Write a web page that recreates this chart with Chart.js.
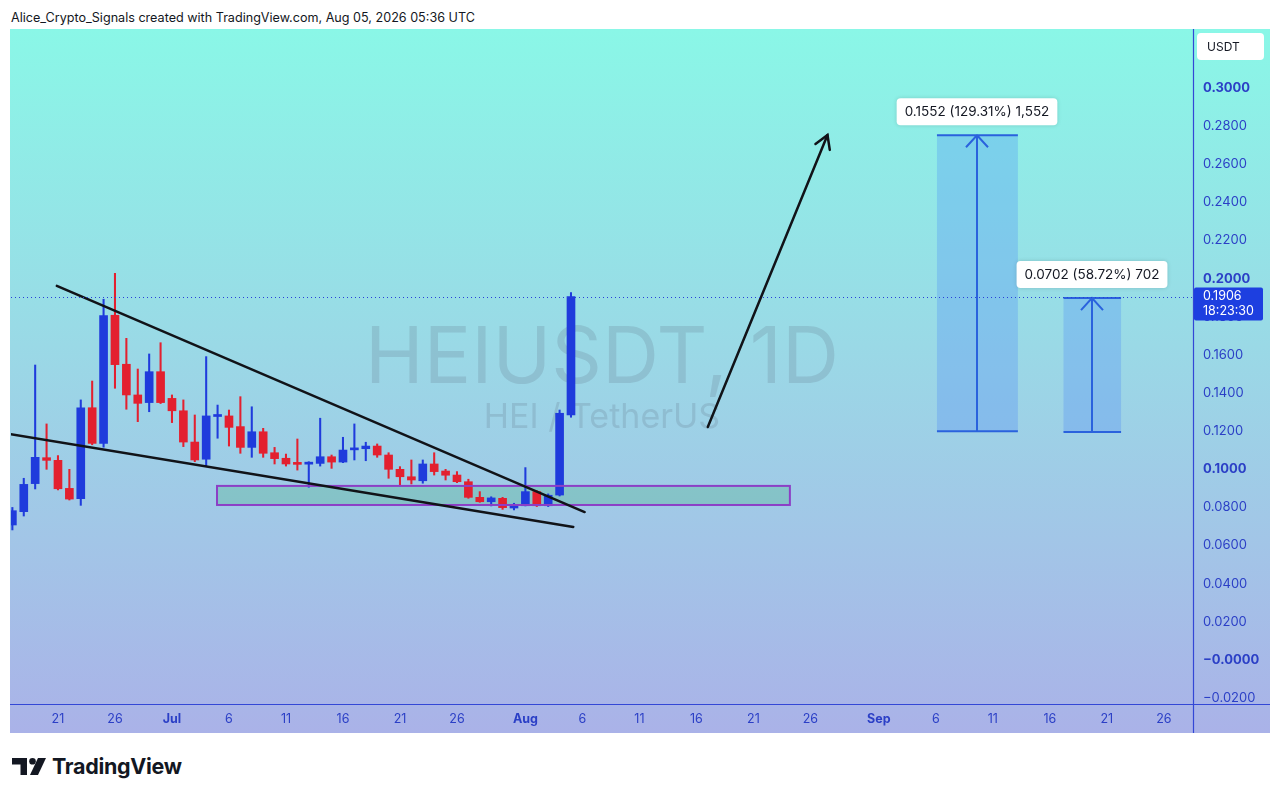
<!DOCTYPE html>
<html>
<head>
<meta charset="utf-8">
<script src="https://cdn.jsdelivr.net/npm/chart.js@4.4.1/dist/chart.umd.min.js"></script>
<style>
    body { margin: 0; background: #fff; width: 1280px; height: 797px; overflow: hidden; font-family: Inter, "Noto Sans", sans-serif; }
    #header { position: absolute; left: 11px; top: 10px; font-size: 12.6px; color: #131722; }
    #panel { position: absolute; left: 10px; top: 29px; width: 1260px; height: 704px; background: linear-gradient(180deg, #8af7e7 0%, #9ad9e6 45%, #aab2e8 100%); }
    #logo { position: absolute; left: 12px; top: 753px; display: flex; align-items: center; gap: 6px; font-size: 21.5px; font-weight: 700; color: #131722; letter-spacing: -0.3px; }
</style>
</head>
<body>
<div id="header">Alice_Crypto_Signals created with TradingView.com, Aug 05, 2026 05:36 UTC</div>
<div id="panel"><canvas id="chart" width="1260" height="704"></canvas></div>
<div id="logo">
    <svg width="34" height="17" viewBox="0 0 34 17">
        <path d="M0 0 H15 V17 H8.5 V6.5 H0 Z" fill="#131722"/>
        <circle cx="20.5" cy="3.3" r="3.3" fill="#131722"/>
        <path d="M26 0 H34 L26 17 H18 Z" fill="#131722"/>
    </svg>
    <span>TradingView</span>
</div>
<script>
// Daily candles HEI/USDT, first candle = Jun 17 (x = day index)
const opens  = [0.0708, 0.0778, 0.0925, 0.1061, 0.1047, 0.0900, 0.0846, 0.1323, 0.1136, 0.1808,
                0.1551, 0.1390, 0.1350, 0.1512, 0.1372, 0.1307, 0.1143, 0.1053, 0.1277, 0.1280,
                0.1224, 0.1115, 0.1197, 0.1087, 0.1058, 0.1030, 0.1027, 0.1031, 0.1066, 0.1038,
                0.1102, 0.1108, 0.1122, 0.1075, 0.1000, 0.0961, 0.0940, 0.1028, 0.0991, 0.0970,
                0.0935, 0.0853, 0.0830, 0.0848, 0.0797, 0.0809, 0.0883, 0.0809, 0.0865, 0.1285];
const highs  = [0.0800, 0.0953, 0.1547, 0.1238, 0.1072, 0.1000, 0.1364, 0.1463, 0.1892, 0.2028,
                0.1687, 0.1526, 0.1605, 0.1664, 0.1390, 0.1364, 0.1285, 0.1591, 0.1337, 0.1311,
                0.1381, 0.1328, 0.1215, 0.1115, 0.1080, 0.1159, 0.1040, 0.1268, 0.1075, 0.1168,
                0.1238, 0.1142, 0.1133, 0.1087, 0.1014, 0.1049, 0.1049, 0.1087, 0.1000, 0.0988,
                0.0948, 0.0883, 0.0856, 0.0853, 0.0822, 0.1009, 0.0888, 0.0871, 0.1311, 0.1927];
const lows   = [0.0682, 0.0755, 0.0897, 0.1000, 0.0892, 0.0839, 0.0811, 0.1129, 0.1116, 0.1425,
                0.1315, 0.1250, 0.1302, 0.1345, 0.1245, 0.1119, 0.1040, 0.1014, 0.1163, 0.1122,
                0.1084, 0.1063, 0.1063, 0.1028, 0.1017, 0.0996, 0.0906, 0.1017, 0.1005, 0.1035,
                0.1049, 0.1045, 0.1063, 0.0953, 0.0913, 0.0923, 0.0927, 0.0970, 0.0944, 0.0930,
                0.0848, 0.0827, 0.0808, 0.0790, 0.0787, 0.0808, 0.0805, 0.0805, 0.0860, 0.1273];
const closes = [0.0783, 0.0921, 0.1063, 0.1047, 0.0898, 0.0844, 0.1323, 0.1136, 0.1806, 0.1549,
                0.1390, 0.1346, 0.1512, 0.1350, 0.1307, 0.1143, 0.1049, 0.1280, 0.1282, 0.1220,
                0.1115, 0.1197, 0.1084, 0.1056, 0.1028, 0.1026, 0.1034, 0.1066, 0.1038, 0.1101,
                0.1108, 0.1122, 0.1075, 0.1000, 0.0961, 0.0944, 0.1028, 0.0988, 0.0969, 0.0935,
                0.0853, 0.0830, 0.0850, 0.0799, 0.0811, 0.0883, 0.0809, 0.0864, 0.1294, 0.1906];

// Axis ticks
const xTickDays   = [4, 9, 14, 19, 24, 29, 34, 39, 45, 50, 55, 60, 65, 70, 76, 81, 86, 91, 96, 101];
const xTickLabels = ['21', '26', 'Jul', '6', '11', '16', '21', '26', 'Aug', '6', '11', '16', '21', '26', 'Sep', '6', '11', '16', '21', '26'];
const yTicks = [-0.02, 0, 0.02, 0.04, 0.06, 0.08, 0.10, 0.12, 0.14, 0.16, 0.18, 0.20, 0.22, 0.24, 0.26, 0.28, 0.30];
const boldPrices = [0, 0.10, 0.20, 0.30];

// Last price
const lastPrice = 0.1906;
const countdown = '18:23:30';

// Drawings, in [day, price]
const upperTrend = [[3.9, 0.1962], [50.2, 0.0776]];
const lowerTrend = [[-0.2, 0.1185], [49.2, 0.0698]];
const arrowLine  = [[61.0, 0.1222], [71.5, 0.2753]];
const zoneBox    = [[17.95, 0.0913], [68.2, 0.0813]];
const targetFrom  = [81.1, 92.2];
const targetTo    = [88.2, 97.25];
const targetBase  = [0.1200, 0.1196];
const targetTop   = [0.2752, 0.1898];
const targetLabel = ['0.1552 (129.31%) 1,552', '0.0702 (58.72%) 702'];

const upColor = '#1f3bdc';
const downColor = '#e3202f';
const axisBlue = '#2b3fc6';
const font = 'Inter, "Noto Sans", sans-serif';

const candleColors = closes.map((c, i) => c >= opens[i] ? upColor : downColor);
const bodies = closes.map((c, i) => ({ x: i, y: [opens[i], c] }));
const wicks = closes.map((c, i) => ({ x: i, y: [lows[i], highs[i]] }));

function roundRect(ctx, x, y, w, h, r) {
    ctx.beginPath();
    ctx.moveTo(x + r, y);
    ctx.arcTo(x + w, y, x + w, y + h, r);
    ctx.arcTo(x + w, y + h, x, y + h, r);
    ctx.arcTo(x, y + h, x, y, r);
    ctx.arcTo(x, y, x + w, y, r);
    ctx.closePath();
}

// Drawings under the candles
const underlay = {
    id: 'underlay',
    beforeDatasetsDraw(chart) {
        const { ctx, chartArea: a, scales: { x, y } } = chart;
        ctx.save();
        // watermark
        ctx.fillStyle = 'rgba(90, 105, 125, 0.2)';
        ctx.textAlign = 'center';
        ctx.textBaseline = 'alphabetic';
        ctx.font = '400 79px ' + font;
        ctx.fillText('HEIUSDT, 1D', a.left + 591, 354);
        ctx.font = '400 34px ' + font;
        ctx.fillText('HEI / TetherUS', a.left + 591, 399);

        // zone box
        const zx1 = x.getPixelForValue(zoneBox[0][0]), zx2 = x.getPixelForValue(zoneBox[1][0]);
        const zy1 = y.getPixelForValue(zoneBox[0][1]), zy2 = y.getPixelForValue(zoneBox[1][1]);
        ctx.fillStyle = 'rgba(90, 185, 150, 0.38)';
        ctx.fillRect(zx1, zy1, zx2 - zx1, zy2 - zy1);
        ctx.restore();
    }
};

// Drawings over the candles
const overlay = {
    id: 'overlay',
    afterDatasetsDraw(chart) {
        const { ctx, chartArea: a, scales: { x, y } } = chart;
        const pt = p => [x.getPixelForValue(p[0]), y.getPixelForValue(p[1])];
        ctx.save();
        ctx.beginPath();
        ctx.rect(a.left, a.top, a.right - a.left, a.bottom - a.top);
        ctx.clip();

        // zone border
        const [zx1, zy1] = pt(zoneBox[0]);
        const [zx2, zy2] = pt(zoneBox[1]);
        ctx.strokeStyle = '#8c3fc6';
        ctx.lineWidth = 2;
        ctx.strokeRect(zx1, zy1, zx2 - zx1, zy2 - zy1);

        // trend lines and arrow
        ctx.strokeStyle = '#111318';
        ctx.lineWidth = 2.5;
        ctx.lineCap = 'round';
        [upperTrend, lowerTrend, arrowLine].forEach(line => {
            const [x1, y1] = pt(line[0]);
            const [x2, y2] = pt(line[1]);
            ctx.beginPath();
            ctx.moveTo(x1, y1);
            ctx.lineTo(x2, y2);
            ctx.stroke();
        });
        const [ax1, ay1] = pt(arrowLine[0]);
        const [ax2, ay2] = pt(arrowLine[1]);
        const ang = Math.atan2(ay2 - ay1, ax2 - ax1);
        ctx.beginPath();
        ctx.moveTo(ax2 + 15 * Math.cos(ang + 2.6), ay2 + 15 * Math.sin(ang + 2.6));
        ctx.lineTo(ax2, ay2);
        ctx.lineTo(ax2 + 15 * Math.cos(ang - 2.6), ay2 + 15 * Math.sin(ang - 2.6));
        ctx.stroke();

        // price range boxes
        targetFrom.forEach((from, i) => {
            const bx1 = x.getPixelForValue(from), bx2 = x.getPixelForValue(targetTo[i]);
            const by1 = y.getPixelForValue(targetTop[i]), by2 = y.getPixelForValue(targetBase[i]);
            const mid = Math.round((bx1 + bx2) / 2);
            ctx.fillStyle = 'rgba(41, 98, 255, 0.2)';
            ctx.fillRect(bx1, by1, bx2 - bx1, by2 - by1);
            ctx.strokeStyle = '#2a62dd';
            ctx.lineWidth = 2;
            ctx.lineCap = 'butt';
            ctx.beginPath();
            ctx.moveTo(bx1, by1); ctx.lineTo(bx2, by1);
            ctx.moveTo(bx1, by2); ctx.lineTo(bx2, by2);
            ctx.moveTo(mid, by2); ctx.lineTo(mid, by1);
            ctx.moveTo(mid - 11, by1 + 12); ctx.lineTo(mid, by1); ctx.lineTo(mid + 11, by1 + 12);
            ctx.stroke();

            ctx.font = '400 13.5px ' + font;
            const tw = ctx.measureText(targetLabel[i]).width;
            ctx.shadowColor = 'rgba(0, 0, 0, 0.15)';
            ctx.shadowBlur = 4;
            ctx.fillStyle = '#ffffff';
            roundRect(ctx, mid - tw / 2 - 8, by1 - 37, tw + 16, 27, 4);
            ctx.fill();
            ctx.shadowColor = 'transparent';
            ctx.fillStyle = '#131722';
            ctx.textAlign = 'center';
            ctx.textBaseline = 'middle';
            ctx.fillText(targetLabel[i], mid, by1 - 23);
        });
        ctx.restore();

        // last price dotted line
        const py = Math.round(y.getPixelForValue(lastPrice)) + 0.5;
        ctx.save();
        ctx.strokeStyle = '#2740d8';
        ctx.lineWidth = 1;
        ctx.setLineDash([1, 3]);
        ctx.beginPath();
        ctx.moveTo(a.left, py);
        ctx.lineTo(a.right, py);
        ctx.stroke();
        ctx.restore();
    },
    afterDraw(chart) {
        const { ctx, chartArea: a, scales: { y } } = chart;
        const w = chart.width, h = chart.height;
        ctx.save();
        // axis lines
        ctx.strokeStyle = '#3347d6';
        ctx.lineWidth = 1.2;
        ctx.beginPath();
        ctx.moveTo(a.right + 0.5, 0);
        ctx.lineTo(a.right + 0.5, h);
        ctx.moveTo(0, a.bottom + 0.5);
        ctx.lineTo(w, a.bottom + 0.5);
        ctx.stroke();

        // currency box
        ctx.fillStyle = '#ffffff';
        roundRect(ctx, a.right + 4, 4, 67, 27, 4);
        ctx.fill();
        ctx.fillStyle = '#131722';
        ctx.font = '400 12px ' + font;
        ctx.textAlign = 'left';
        ctx.textBaseline = 'middle';
        ctx.fillText('USDT', a.right + 14, 18);

        // last price label
        const py = y.getPixelForValue(lastPrice);
        ctx.fillStyle = '#1d3fe0';
        roundRect(ctx, a.right + 1, py - 9, 69, 33, 2);
        ctx.fill();
        ctx.fillStyle = '#ffffff';
        ctx.font = '400 12.5px ' + font;
        ctx.fillText(lastPrice.toFixed(4), a.right + 10, py);
        ctx.fillText(countdown, a.right + 10, py + 15);
        ctx.restore();
    }
};

function isBoldPrice(c) {
    return !!(c.tick && boldPrices.some(b => Math.abs(b - c.tick.value) < 1e-6));
}

function isMonth(c) {
    return !!(c.tick && xTickLabels[c.index] && isNaN(+xTickLabels[c.index]));
}

// Build chart
const chart = new Chart(document.getElementById('chart'), {
    type: 'bar',
    data: {
        datasets: [
            {
                label: 'body',
                data: bodies,
                backgroundColor: candleColors,
                barThickness: 8,
                minBarLength: 2,
                grouped: false,
                order: 0,
            },
            {
                label: 'wick',
                data: wicks,
                backgroundColor: candleColors,
                barThickness: 1.4,
                grouped: false,
                order: 1,
            },
        ],
    },
    options: {
        responsive: false,
        animation: false,
        layout: { padding: { left: 1, top: 1, right: 0, bottom: 0 } },
        plugins: { legend: { display: false }, tooltip: { enabled: false } },
        scales: {
            x: {
                type: 'linear',
                min: -0.12,
                max: 103.56,
                offset: false,
                grid: { display: false, drawTicks: false },
                border: { display: false },
                afterBuildTicks: (s) => { s.ticks = xTickDays.map(v => ({ value: v })); },
                afterFit: (s) => { s.height = 29; s.paddingLeft = 0; s.paddingRight = 0; },
                ticks: {
                    autoSkip: false,
                    maxRotation: 0,
                    padding: 8,
                    color: axisBlue,
                    font: (c) => ({ family: font, size: 12.5, weight: isMonth(c) ? '700' : '400' }),
                    callback: (v, i) => xTickLabels[i],
                },
            },
            y: {
                position: 'right',
                min: -0.02308,
                max: 0.3304,
                grid: { display: false, drawTicks: false },
                border: { display: false },
                afterBuildTicks: (s) => { s.ticks = yTicks.map(v => ({ value: v })); },
                afterFit: (s) => { s.width = 77; s.paddingTop = 0; s.paddingBottom = 0; },
                ticks: {
                    padding: 10,
                    color: axisBlue,
                    font: (c) => ({ family: font, size: 13, weight: isBoldPrice(c) ? '700' : '400' }),
                    callback: (v) => Math.abs(v) < 1e-9 ? '\u22120.0000' : (v < 0 ? '\u2212' + Math.abs(v).toFixed(4) : v.toFixed(4)),
                },
            },
        },
    },
    plugins: [underlay, overlay],
});
</script>
</body>
</html>
